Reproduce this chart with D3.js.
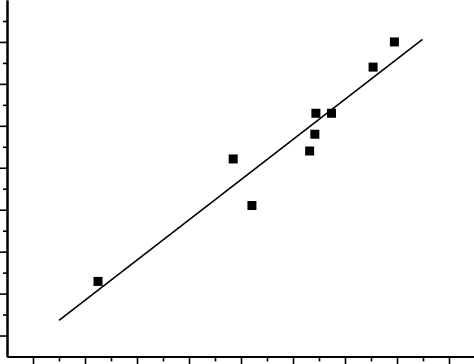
<!DOCTYPE html>
<html>
<head>
<meta charset="utf-8">
<script src="https://cdn.jsdelivr.net/npm/d3@7"></script>
<style>
  body { margin: 0; background: #fff; }
  svg { display: block; }
</style>
</head>
<body>
<div id="chart"></div>
<script>
// measured points (axis units)
const xValues = [2.25, 4.85, 5.21, 6.32, 6.42, 6.44, 6.74, 7.54, 7.95];
const yValues = [2.29, 5.21, 4.10, 5.40, 5.80, 6.30, 6.30, 7.40, 8.00];
// fitted line end points
const fitX = [1.5, 8.49];
const fitY = [1.36, 8.06];
// tick positions
const xMajor = [1, 2, 3, 4, 5, 6, 7, 8, 9];
const xMinor = [1.5, 2.5, 3.5, 4.5, 5.5, 6.5, 7.5, 8.5];
const yMajor = [1, 2, 3, 4, 5, 6, 7, 8];
const yMinor = [1.5, 2.5, 3.5, 4.5, 5.5, 6.5, 7.5, 8.5];

const width = 474, height = 364;

const svg = d3.select('#chart').append('svg')
  .attr('width', width)
  .attr('height', height);

const x = d3.scaleLinear().domain([0.5, 9.5]).range([7, 475]);
const y = d3.scaleLinear().domain([0.5, 9]).range([356.5, 0]);

// axes: major ticks longer, minor ticks shorter
function drawAxis(axis, transform) {
  const g = svg.append('g').attr('transform', transform).call(axis);
  g.selectAll('text').remove();
  g.select('.domain').attr('stroke', '#000').attr('stroke-width', 2);
  g.selectAll('.tick line').attr('stroke', '#000').attr('stroke-width', 1.6);
  return g;
}

drawAxis(d3.axisBottom(x).tickValues(xMajor).tickSize(9).tickSizeOuter(0).tickFormat(''),
  'translate(0,356.5)');
drawAxis(d3.axisBottom(x).tickValues(xMinor).tickSize(5).tickSizeOuter(0).tickFormat(''),
  'translate(0,356.5)');
drawAxis(d3.axisLeft(y).tickValues(yMajor).tickSize(8).tickSizeOuter(0).tickFormat(''),
  'translate(7,0)');
drawAxis(d3.axisLeft(y).tickValues(yMinor).tickSize(4).tickSizeOuter(0).tickFormat(''),
  'translate(7,0)');

// fit line
const line = d3.line().x(d => x(d[0])).y(d => y(d[1]));
svg.append('path')
  .datum(d3.zip(fitX, fitY))
  .attr('d', line)
  .attr('fill', 'none')
  .attr('stroke', '#000')
  .attr('stroke-width', 1.6);

// square markers
const size = 9;
svg.selectAll('rect.pt')
  .data(d3.zip(xValues, yValues))
  .enter()
  .append('rect')
  .attr('class', 'pt')
  .attr('x', d => x(d[0]) - size / 2)
  .attr('y', d => y(d[1]) - size / 2)
  .attr('width', size)
  .attr('height', size)
  .attr('fill', '#000');
</script>
</body>
</html>
